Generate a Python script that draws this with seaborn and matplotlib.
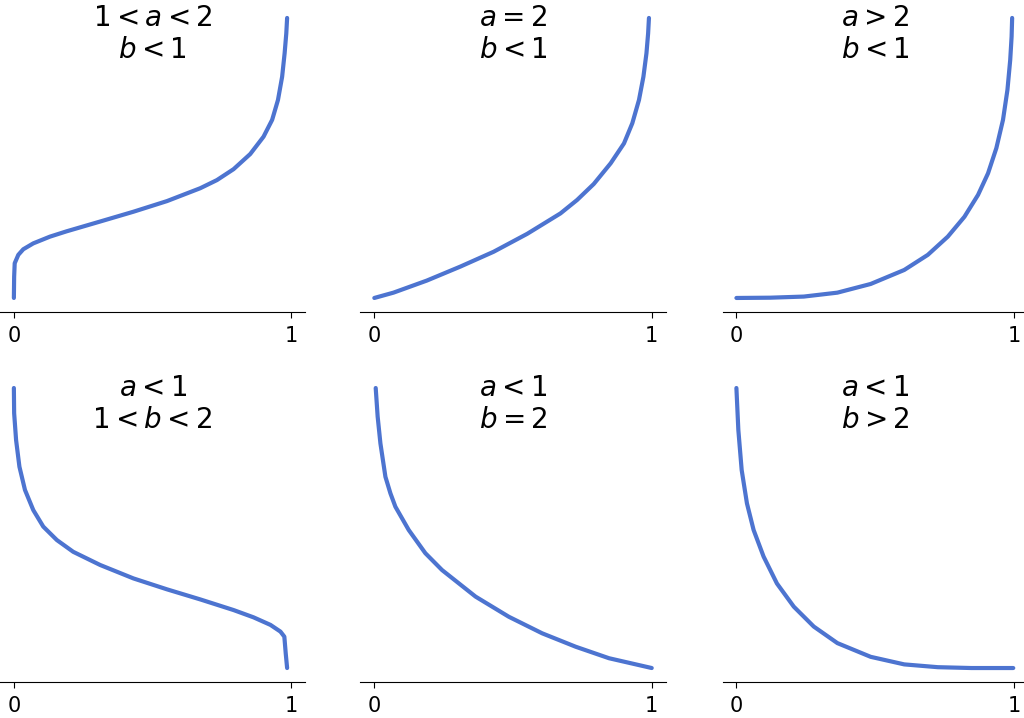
import matplotlib
matplotlib.use("Agg")
import matplotlib.pyplot as plt
import seaborn as sns

# values, y scaled so the curve spans 0..1
titles = [
    "$1 < a < 2$\n$b < 1$",
    "$a = 2$\n$b < 1$",
    "$a > 2$\n$b < 1$",
    "$a < 1$\n$1 < b < 2$",
    "$a < 1$\n$b = 2$",
    "$a < 1$\n$b > 2$",
]

x1 = [0, 0.001, 0.003, 0.016, 0.034, 0.07, 0.13, 0.19, 0.311, 0.431, 0.552, 0.672,
      0.732, 0.792, 0.852, 0.9, 0.931, 0.952, 0.967, 0.976, 0.982, 0.985]
y1 = [0, 0.076, 0.124, 0.154, 0.174, 0.195, 0.219, 0.238, 0.273, 0.308, 0.346, 0.392,
      0.421, 0.46, 0.514, 0.576, 0.636, 0.707, 0.79, 0.874, 0.945, 1.0]

x2 = [0, 0.069, 0.189, 0.31, 0.43, 0.551, 0.671, 0.731, 0.791, 0.852, 0.9, 0.93,
      0.954, 0.97, 0.981, 0.987, 0.99]
y2 = [0, 0.019, 0.062, 0.112, 0.165, 0.229, 0.302, 0.35, 0.407, 0.481, 0.552, 0.624,
      0.707, 0.79, 0.874, 0.945, 1.0]

x3 = [0, 0.122, 0.243, 0.364, 0.484, 0.605, 0.69, 0.762, 0.822, 0.871, 0.907, 0.937,
      0.961, 0.977, 0.987, 0.992, 0.994]
y3 = [0, 0.001, 0.005, 0.019, 0.05, 0.1, 0.154, 0.219, 0.29, 0.368, 0.445, 0.535,
      0.636, 0.743, 0.85, 0.933, 1.0]

x4 = [0, 0.001, 0.008, 0.02, 0.04, 0.07, 0.106, 0.155, 0.214, 0.311, 0.431, 0.552,
      0.672, 0.792, 0.864, 0.925, 0.961, 0.975, 0.98, 0.985]
y4 = [1.0, 0.91, 0.814, 0.719, 0.636, 0.564, 0.505, 0.457, 0.415, 0.368, 0.32, 0.281,
      0.245, 0.207, 0.181, 0.154, 0.13, 0.112, 0.052, 0]

x5 = [0.005, 0.012, 0.022, 0.04, 0.058, 0.076, 0.124, 0.184, 0.244, 0.365, 0.485,
      0.605, 0.726, 0.846, 1.0]
y5 = [1.0, 0.898, 0.802, 0.683, 0.624, 0.576, 0.493, 0.41, 0.35, 0.255, 0.183,
      0.124, 0.076, 0.035, 0]

x6 = [0, 0.007, 0.019, 0.038, 0.062, 0.098, 0.146, 0.207, 0.279, 0.364, 0.484, 0.605,
      0.726, 0.847, 0.998]
y6 = [1.0, 0.85, 0.707, 0.588, 0.493, 0.398, 0.302, 0.219, 0.148, 0.089, 0.04, 0.013,
      0.003, 0, 0]

curves = [(x1, y1), (x2, y2), (x3, y3), (x4, y4), (x5, y5), (x6, y6)]

sns.set_style("white")
plt.rcParams["mathtext.fontset"] = "dejavusans"

fig = plt.figure(figsize=(10.24, 7.18), dpi=100)
lefts = [0.0, 0.352, 0.7056]
bottoms = [0.5655, 0.0501]

for i, (xs, ys) in enumerate(curves):
    row, col = divmod(i, 3)
    ax = fig.add_axes([lefts[col], bottoms[row], 0.298, 0.429])
    sns.lineplot(x=xs, y=ys, ax=ax, color="#4d74d0", linewidth=3, sort=False)
    ax.set_xlim(-0.05, 1.05)
    ax.set_ylim(-0.05, 1.05)
    ax.set_xticks([0, 1])
    ax.set_xticklabels(["0", "1"])
    ax.set_yticks([])
    ax.tick_params(axis="x", bottom=True, length=4, width=0.8, pad=6, labelsize=15,
                   colors="black")
    sns.despine(ax=ax, left=True)
    ax.spines["bottom"].set_color("black")
    ax.spines["bottom"].set_linewidth(0.8)
    ax.text(0.5, 1.0, titles[i], transform=ax.transAxes, ha="center", va="top",
            fontsize=20, color="black")

fig.savefig("out.png", dpi=100)
